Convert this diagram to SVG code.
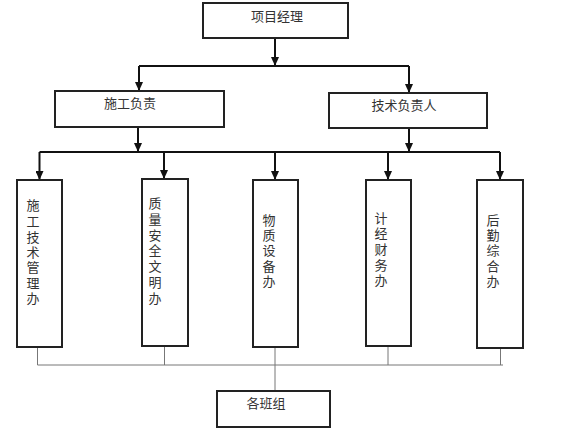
<svg xmlns="http://www.w3.org/2000/svg" width="576" height="432" viewBox="0 0 576 432">
<style>
.box{fill:#fff;stroke:#222;stroke-width:2}
.t{font-family:"Liberation Sans","Noto Sans CJK SC",sans-serif;font-size:13px;fill:#333;text-anchor:middle;dominant-baseline:central}
.c{fill:none;stroke:#111;stroke-width:2}
.g{fill:none;stroke:#777;stroke-width:1}
</style>
<defs>
<marker id="ad" markerUnits="userSpaceOnUse" markerWidth="8" markerHeight="9" viewBox="0 0 8 9" refX="4" refY="9" orient="0">
<path d="M0,0 L8,0 L4,9 Z" fill="#111"/>
</marker>
</defs>
<g id="connectors">
<path class="c" d="M275 38 V66" marker-end="url(#ad)"/>
<path class="c" d="M139 66 H409"/>
<path class="c" d="M139 66 V91" marker-end="url(#ad)"/>
<path class="c" d="M409 66 V93" marker-end="url(#ad)"/>
<path class="c" d="M138 127 V152" marker-end="url(#ad)"/>
<path class="c" d="M409 128 V152" marker-end="url(#ad)"/>
<path class="c" d="M39.5 152 H500"/>
<path class="c" d="M39.5 152 V180" marker-end="url(#ad)"/>
<path class="c" d="M164 152 V179" marker-end="url(#ad)"/>
<path class="c" d="M275 152 V180" marker-end="url(#ad)"/>
<path class="c" d="M388 152 V180" marker-end="url(#ad)"/>
<path class="c" d="M500 152 V180" marker-end="url(#ad)"/>
<path class="g" d="M37.5 347 V365 M164.5 346 V365 M388 346 V365 M500.5 348 V365 M37.5 365 H503 M275 347 V391"/>
</g>
<g id="n_pm"><rect class="box" x="203" y="3" width="145" height="35"/><text class="t" x="277" y="16">项目经理</text></g>
<g id="n_sg"><rect class="box" x="55" y="91" width="169" height="36"/><text class="t" x="130" y="103">施工负责</text></g>
<g id="n_js"><rect class="box" x="329" y="93" width="158" height="35"/><text class="t" x="404" y="105">技术负责人</text></g>
<g id="n_1"><rect class="box" x="17" y="180" width="45" height="167"/>
<text class="t" x="33"><tspan x="33" y="205">施</tspan><tspan x="33" y="221">工</tspan><tspan x="33" y="237">技</tspan><tspan x="33" y="252">术</tspan><tspan x="33" y="267">管</tspan><tspan x="33" y="283">理</tspan><tspan x="33" y="298">办</tspan></text></g>
<g id="n_2"><rect class="box" x="142" y="179" width="46" height="167"/>
<text class="t" x="155"><tspan x="155" y="203">质</tspan><tspan x="155" y="219">量</tspan><tspan x="155" y="235">安</tspan><tspan x="155" y="250">全</tspan><tspan x="155" y="266">文</tspan><tspan x="155" y="282">明</tspan><tspan x="155" y="298">办</tspan></text></g>
<g id="n_3"><rect class="box" x="253" y="180" width="45" height="167"/>
<text class="t" x="269"><tspan x="269" y="220">物</tspan><tspan x="269" y="235">质</tspan><tspan x="269" y="250">设</tspan><tspan x="269" y="266">备</tspan><tspan x="269" y="281">办</tspan></text></g>
<g id="n_4"><rect class="box" x="366" y="180" width="45" height="166"/>
<text class="t" x="381"><tspan x="381" y="218">计</tspan><tspan x="381" y="233">经</tspan><tspan x="381" y="249">财</tspan><tspan x="381" y="265">务</tspan><tspan x="381" y="280">办</tspan></text></g>
<g id="n_5"><rect class="box" x="477" y="180" width="46" height="168"/>
<text class="t" x="493"><tspan x="493" y="220">后</tspan><tspan x="493" y="235">勤</tspan><tspan x="493" y="250">综</tspan><tspan x="493" y="266">合</tspan><tspan x="493" y="281">办</tspan></text></g>
<g id="n_bz"><rect class="box" x="217" y="391" width="113" height="36"/><text class="t" x="266" y="403">各班组</text></g>
</svg>
